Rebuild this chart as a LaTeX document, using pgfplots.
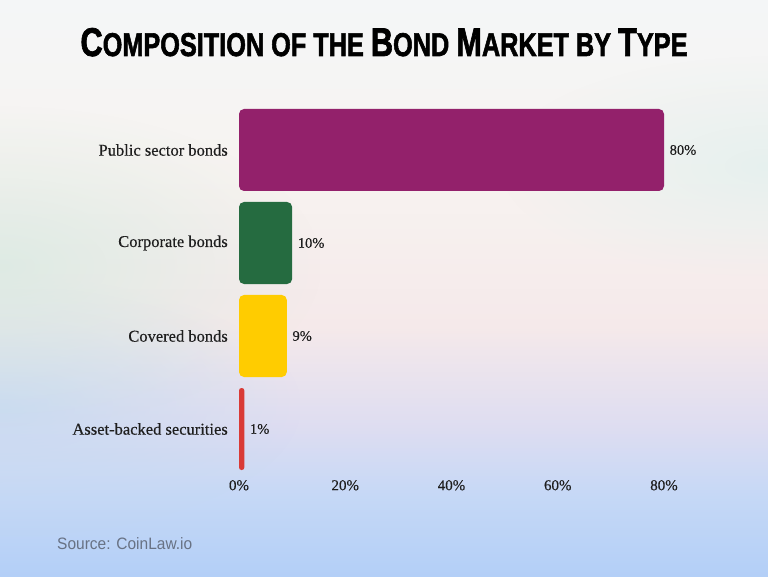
\documentclass[border=0pt]{standalone}
\usepackage{pgfplots}
\pgfplotsset{compat=1.18}
\usepackage{fontspec}
\setmainfont{Liberation Serif}[FakeBold=0.4]
\newfontfamily\titlefont[BoldFeatures={FakeBold=2}]{Liberation Sans}
\newfontfamily\srcfont{Liberation Sans}
\usetikzlibrary{fadings}

\definecolor{bg0}{HTML}{B3CFF7}
\definecolor{bg1}{HTML}{C5D8F6}
\definecolor{bg2}{HTML}{DEDDF1}
\definecolor{bg3}{HTML}{F5E9EA}
\definecolor{bg4}{HTML}{F7F3F0}
\definecolor{bg5}{HTML}{F4F6F7}
\definecolor{bgleft}{HTML}{D6EAE1}
\definecolor{bgleftlow}{HTML}{C4DAF2}
\definecolor{bgright}{HTML}{E2F0EE}
\definecolor{pubcol}{HTML}{93216B}
\definecolor{corpcol}{HTML}{256B40}
\definecolor{covcol}{HTML}{FFCC00}
\definecolor{abscol}{HTML}{D93A36}
\definecolor{txt}{HTML}{1E1E1E}
\definecolor{srccol}{HTML}{687284}

% page height 576pt mapped onto 25bp..75bp of the shading
\pgfdeclareverticalshading{bgshade}{100bp}{color(0bp)=(bg0); color(25bp)=(bg0);
  color(31.9bp)=(bg1); color(38bp)=(bg2); color(46.7bp)=(bg3);
  color(59.7bp)=(bg4); color(75bp)=(bg5); color(100bp)=(bg5)}
\tikzfading[name=radfade, inner color=transparent!0, outer color=transparent!100]

% fake small caps for the title
\newcommand{\BigL}[1]{{\fontsize{39}{39}\selectfont #1}}
\newcommand{\SmlL}[1]{{\fontsize{32}{32}\selectfont #1}}

\begin{document}
\begin{tikzpicture}[x=1pt,y=1pt]
\useasboundingbox (0,0) rectangle (768,576);
\shade[shading=bgshade] (0,0) rectangle (768,576);
\fill[bgleftlow, path fading=radfade, opacity=0.8] (-300,40) rectangle (300,300);
\fill[bgleft, path fading=radfade, opacity=0.75] (-320,150) rectangle (320,470);
\fill[bgright, path fading=radfade, opacity=0.8] (500,300) rectangle (1036,520);

\node[anchor=base, inner sep=0pt] at (384,520)
  {\resizebox{607pt}{28pt}{\titlefont\bfseries
   \BigL{C}\SmlL{OMPOSITION OF THE }\BigL{B}\SmlL{OND }\BigL{M}\SmlL{ARKET BY }\BigL{T}\SmlL{YPE}}};

\node[anchor=west, inner sep=0pt, text=srccol] at (57,32)
  {\scalebox{0.94}[1]{\srcfont\fontsize{16.5}{16.5}\selectfont Source: CoinLaw.io}};

\begin{axis}[
  at={(239pt,100.5pt)}, anchor=south west,
  scale only axis, width=425pt, height=372pt,
  xbar, bar width=82pt, bar shift=0pt,
  xmin=0, xmax=80, ymin=-0.5, ymax=3.5,
  clip=false,
  axis line style={draw=none},
  tick style={draw=none},
  major tick length=0pt,
  xtick={0,20,40,60,80},
  xticklabel={\pgfmathprintnumber{\tick}\%},
  xticklabel style={anchor=north, inner sep=0pt, yshift=-4.5pt, text=txt, font=\fontsize{15}{15}\selectfont},
  ytick={0,1,2,3},
  yticklabels={Asset-backed securities, Covered bonds, Corporate bonds, Public sector bonds},
  yticklabel style={anchor=east, inner sep=0pt, xshift=-11pt, text=txt, font=\fontsize{16.5}{16.5}\selectfont},
  /pgf/number format/assume math mode=true,
  nodes near coords={\pgfmathprintnumber{\pgfplotspointmeta}\%},
  nodes near coords style={anchor=west, inner sep=0pt, xshift=5.5pt, text=txt, font=\fontsize{14.5}{14.5}\selectfont},
]
\addplot[fill=pubcol, draw=none, rounded corners=5pt] coordinates {(80,3)};
\addplot[fill=corpcol, draw=none, rounded corners=5pt] coordinates {(10,2)};
\addplot[fill=covcol, draw=none, rounded corners=5pt] coordinates {(9,1)};
\addplot[fill=abscol, draw=none, rounded corners=2.5pt] coordinates {(1,0)};
\end{axis}
\end{tikzpicture}
\end{document}
